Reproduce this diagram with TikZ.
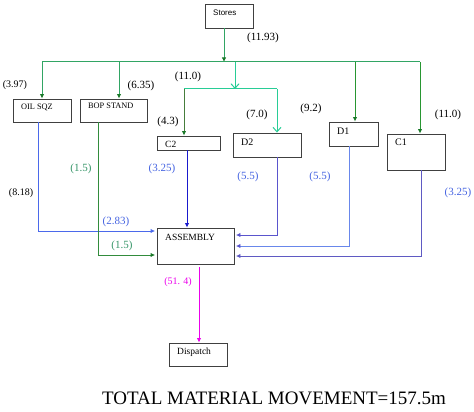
\documentclass[tikz,border=0pt]{standalone}
\usepackage{fontspec}
\setmainfont{Liberation Serif}
\setsansfont{Liberation Sans}
\usetikzlibrary{arrows.meta}

\definecolor{busgreen}{RGB}{50,165,100}
\definecolor{tealgreen}{RGB}{40,205,150}
\definecolor{dkgreen}{RGB}{25,120,40}
\definecolor{feedgreen}{RGB}{40,150,50}
\definecolor{olivegreen}{RGB}{70,125,60}
\definecolor{oilblue}{RGB}{75,105,235}
\definecolor{c2blue}{RGB}{25,25,205}
\definecolor{d2blue}{RGB}{90,85,205}
\definecolor{d1blue}{RGB}{105,135,235}
\definecolor{c1blue}{RGB}{95,90,195}
\definecolor{bopgreen}{RGB}{50,140,60}
\definecolor{lblblue}{RGB}{70,100,225}
\definecolor{lblgreen}{RGB}{55,150,105}
\definecolor{outmag}{RGB}{235,0,235}

\tikzstyle{box}=[draw=black!75,line width=0.9pt,inner sep=0pt]
\tikzstyle{boxtext}=[anchor=west,inner sep=0pt,font=\fontsize{8.3}{9}\selectfont]
\tikzstyle{lbl}=[inner sep=0pt,font=\fontsize{11}{12}\selectfont]
\tikzstyle{smalllbl}=[lbl,font=\fontsize{10}{11}\selectfont]
\tikzstyle{feed}=[busgreen,line width=1pt]
\tikzstyle{feedarrow}=[feed,-{Latex[length=4.5pt,width=4.5pt,color=dkgreen]}]
\tikzstyle{tealline}=[tealgreen,line width=1pt]
\tikzstyle{tealarrow}=[tealline,-{Straight Barb[length=4.5pt,width=8pt]}]
\tikzstyle{dkarrow}=[feedgreen,line width=1pt,-{Latex[length=4.5pt,width=4.5pt,color=dkgreen]}]
\tikzstyle{movearrow}=[line width=1pt,-{Latex[length=4.5pt,width=4.5pt]},shorten >=1.5pt]

\begin{document}
\begin{tikzpicture}[x=1pt,y=-1pt]
\useasboundingbox (0,0) rectangle (474,412);
% boxes
\node[box,minimum width=48pt,minimum height=24pt] (stores) at (229,16) {};
\node[box,minimum width=58pt,minimum height=23pt] (oil) at (42,110.5) {};
\node[box,minimum width=67pt,minimum height=23pt] (bop) at (113.5,110.5) {};
\node[box,minimum width=63pt,minimum height=14pt] (c2) at (188.5,143) {};
\node[box,minimum width=68pt,minimum height=24pt] (d2) at (267,145) {};
\node[box,minimum width=49pt,minimum height=24pt] (d1) at (353.5,134) {};
\node[box,minimum width=58pt,minimum height=36pt] (c1) at (416,152) {};
\node[box,minimum width=77pt,minimum height=36pt] (ass) at (195.5,246) {};
\node[box,minimum width=58pt,minimum height=23pt] (disp) at (198,354.5) {};
% box texts
\node[boxtext,font=\sffamily\fontsize{8}{9}\selectfont] (storest) at (213,13) {Stores};
\node[boxtext] (oilt) at (21,107) {OIL SQZ};
\node[boxtext] (bopt) at (88,106) {BOP STAND};
\node[boxtext,font=\fontsize{9.5}{10}\selectfont] (c2t) at (165,144) {C2};
\node[boxtext,font=\fontsize{10}{11}\selectfont] (d2t) at (241,142) {D2};
\node[boxtext,font=\fontsize{10}{11}\selectfont] (d1t) at (337,131) {D1};
\node[boxtext,font=\fontsize{10}{11}\selectfont] (c1t) at (395,142) {C1};
\node[boxtext,font=\fontsize{9.5}{10}\selectfont] (asst) at (165,237) {ASSEMBLY};
\node[boxtext,font=\fontsize{9.5}{10}\selectfont] (dispt) at (177,352) {Dispatch};
% junctions
\coordinate (bus0) at (224,62);
\coordinate (busl) at (42,62);
\coordinate (busb) at (119,62);
\coordinate (bust) at (235,62);
\coordinate (busd1) at (355,62);
\coordinate (busr) at (420,62);
\coordinate (tealtop) at (235,89);
\coordinate (teall) at (184,89);
\coordinate (tealr) at (277,89);
% stores to departments
\draw[feedarrow] (stores.south -| bus0) -- (bus0);
\draw[feed] (busl) -- (busr);
\draw[feedarrow] (busl) -- (oil.north);
\draw[feedarrow] (busb) -- (busb |- bop.north);
\draw[tealarrow] (bust) -- (tealtop);
\draw[tealline] (teall) -- (tealr);
\draw[olivegreen,line width=1pt,-{Latex[length=4.5pt,width=4.5pt,color=dkgreen]}] (teall) -- (teall |- c2.north);
\draw[tealarrow] (tealr) -- (tealr |- d2.north);
\draw[dkarrow] (busd1) -- (busd1 |- d1.north);
\draw[dkarrow] (busr) -- (busr |- c1.north);
% departments to assembly
\coordinate (oilb) at (38,231);
\coordinate (bopb) at (98,255);
\coordinate (c2b) at (187,150);
\coordinate (d2b) at (277,235);
\coordinate (d1b) at (349,246);
\coordinate (c1b) at (421,256);
\draw[movearrow,oilblue] (oilb |- oil.south) -- (oilb) -- (oilb -| ass.west);
\draw[movearrow,bopgreen,-{Latex[length=4.5pt,width=4.5pt,color=dkgreen]}] (bopb |- bop.south) -- (bopb) -- (bopb -| ass.west);
\draw[movearrow,c2blue,shorten >=0pt] (c2b |- c2.south) -- (c2b |- ass.north);
\draw[movearrow,d2blue] (d2b |- d2.south) -- (d2b) -- (d2b -| ass.east);
\draw[movearrow,d1blue,-{Latex[length=4.5pt,width=4.5pt,color=d2blue]}] (d1b |- d1.south) -- (d1b) -- (d1b -| ass.east);
\draw[movearrow,c1blue] (c1b |- c1.south) -- (c1b) -- (c1b -| ass.east);
% assembly to dispatch
\coordinate (mag) at (199,267);
\draw[movearrow,outmag,shorten >=0pt] (mag) -- (mag |- disp.north);
% distances
\node[smalllbl] (l397) at (15,85) {(3.97)};
\node[lbl] (l635) at (141,86) {(6.35)};
\node[lbl] (l110a) at (188,77) {(11.0)};
\node[lbl] (l43) at (168,122) {(4.3)};
\node[lbl] (l1193) at (263,38) {(11.93)};
\node[lbl] (l70) at (257,115) {(7.0)};
\node[lbl] (l92) at (311,109) {(9.2)};
\node[lbl] (l110b) at (448,115) {(11.0)};
\node[lbl,lblgreen] (l15a) at (81,169) {(1.5)};
\node[lbl,lblblue] (l325a) at (162,169) {(3.25)};
\node[lbl,lblblue] (l55a) at (248,177) {(5.5)};
\node[lbl,lblblue] (l55b) at (320,177) {(5.5)};
\node[lbl,lblblue] (l325b) at (458,193) {(3.25)};
\node[smalllbl] (l818) at (21,193) {(8.18)};
\node[lbl,lblblue] (l283) at (116,222) {(2.83)};
\node[lbl,lblgreen] (l15b) at (122,246) {(1.5)};
\node[smalllbl,outmag] (l514) at (178,282) {(51. 4)};
\node[inner sep=0pt,font=\fontsize{19}{21}\selectfont] (total) at (274,398) {TOTAL MATERIAL MOVEMENT=157.5m};
\end{tikzpicture}
\end{document}
